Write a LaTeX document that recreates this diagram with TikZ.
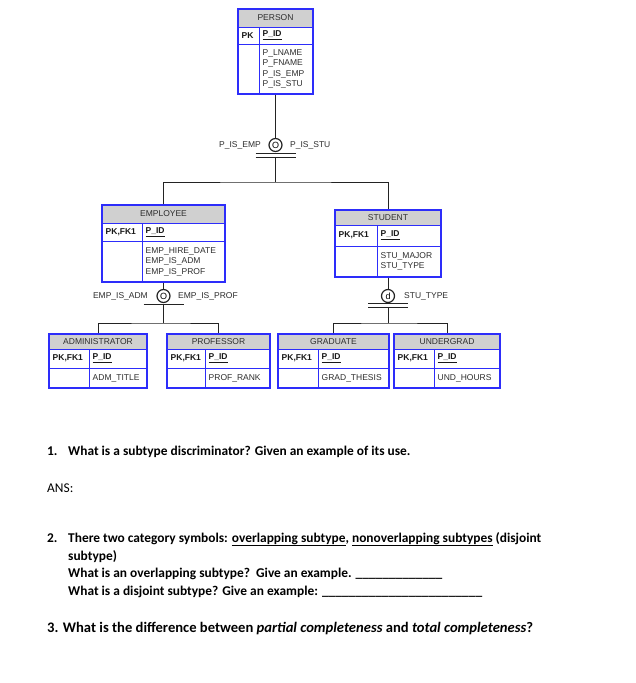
\documentclass[tikz,border=0pt]{standalone}
\usepackage{fontspec}
\setmainfont{Liberation Sans}
\newfontfamily\calfont{Carlito}
\usetikzlibrary{fit}
\definecolor{boxblue}{RGB}{45,45,250}
\definecolor{hdrgray}{RGB}{208,208,208}
\definecolor{txtgray}{RGB}{45,45,45}
\definecolor{conncol}{RGB}{35,35,35}
\tikzset{
  eline/.style={draw=boxblue, line width=0.9pt},
  ebox/.style={draw=boxblue, line width=1.1pt, inner sep=0pt},
  hdrfill/.style={fill=hdrgray},
  etxt/.style={font=\fontsize{8.5}{10.5}\selectfont, text=txtgray, inner sep=0pt},
  ekey/.style={font=\fontsize{8.5}{10.5}\selectfont\bfseries, text=black!90, inner sep=0pt},
  conn/.style={draw=conncol, line width=0.9pt},
  catsym/.style={circle, draw=conncol, line width=1.2pt, minimum size=13pt, inner sep=0pt,
                 font=\fontsize{9}{10}\selectfont, text=black},
  qtxt/.style={font=\calfont\bfseries\fontsize{13.4}{17.7}\selectfont, text=black, inner sep=0pt},
  qbig/.style={font=\calfont\bfseries\fontsize{14.6}{17.7}\selectfont, text=black, inner sep=0pt},
  atxt/.style={font=\calfont\fontsize{13.4}{17.7}\selectfont, text=black, inner sep=0pt}
}
\newcommand{\entbox}[8]{%
  \fill[hdrfill] (#2,#5) rectangle (#3,#6);
  \draw[eline] (#2,#6) -- (#3,#6) (#2,#7) -- (#3,#7) (#4,#6) -- (#4,#8);
  \node[ebox, fit={(#2,#5) (#3,#8)}] (#1) {};
  \coordinate (#1-h) at ({(#2+#3)/2},{(#5+#6)/2});
  \coordinate (#1-k) at ({#2+3.5},{(#6+#7)/2});
  \coordinate (#1-p) at ({#4+3.5},{(#6+#7)/2});
  \coordinate (#1-a) at ({#4+3.5},{(#7+#8)/2});
}
\newcommand{\enttext}[4]{%
  \node[etxt] (#1-title) at (#1-h) {#2};
  \node[ekey, anchor=west] (#1-key) at (#1-k) {#3};
  \node[ekey, anchor=west] (#1-pid) at (#1-p) {\underline{P\_ID}};
  \node[etxt, anchor=west, align=left] (#1-attr) at (#1-a) {#4};
}
\begin{document}
\begin{tikzpicture}[x=1pt,y=-1pt]
\useasboundingbox (0,0) rectangle (635,683);
% entities
\entbox{person}{238}{313}{259}{9}{27}{44}{94}
\enttext{person}{PERSON}{PK}{P\_LNAME\\P\_FNAME\\P\_IS\_EMP\\P\_IS\_STU}
\entbox{employee}{102}{225}{142}{205}{223}{241}{282}
\enttext{employee}{EMPLOYEE}{PK,FK1}{EMP\_HIRE\_DATE\\EMP\_IS\_ADM\\EMP\_IS\_PROF}
\entbox{student}{335}{441}{377}{210}{225}{246}{277}
\enttext{student}{STUDENT}{PK,FK1}{STU\_MAJOR\\STU\_TYPE}
\entbox{admin}{49}{147}{89}{334}{349}{368}{388}
\enttext{admin}{ADMINISTRATOR}{PK,FK1}{ADM\_TITLE}
\entbox{prof}{167}{270}{205}{334}{349}{368}{388}
\enttext{prof}{PROFESSOR}{PK,FK1}{PROF\_RANK}
\entbox{grad}{278}{389}{318}{334}{349}{368}{388}
\enttext{grad}{GRADUATE}{PK,FK1}{GRAD\_THESIS}
\entbox{under}{394}{500}{434}{334}{349}{368}{388}
\enttext{under}{UNDERGRAD}{PK,FK1}{UND\_HOURS}

% category 1: PERSON
\node[catsym] (c1) at (275.5,145) {O};
\node[etxt, anchor=east] (c1l) at (261,145) {P\_IS\_EMP};
\node[etxt, anchor=west] (c1r) at (290,145) {P\_IS\_STU};
\coordinate (c1a) at (255.5,153); \coordinate (c1b) at (295.5,153);
\coordinate (c1c) at (255.5,157); \coordinate (c1d) at (295.5,157);
\coordinate (c1m) at (275.5,157);
\coordinate (j1) at (275.5,182);
\draw[conn] (c1a) -- (c1b) (c1c) -- (c1d);
\draw[conn] (person.south) -- (c1.north);
\draw[conn] (c1m) -- (j1);
\draw[conn] (employee.north) |- (j1) -| (student.north);

% category 2: EMPLOYEE
\node[catsym] (c2) at (163.5,296) {O};
\node[etxt, anchor=east] (c2l) at (148,296) {EMP\_IS\_ADM};
\node[etxt, anchor=west] (c2r) at (178,296) {EMP\_IS\_PROF};
\coordinate (c2a) at (143.5,304); \coordinate (c2b) at (183.5,304);
\coordinate (c2m) at (163.5,304);
\coordinate (j2) at (163.5,323);
\draw[conn] (c2a) -- (c2b);
\draw[conn] (employee.south) -- (c2.north);
\draw[conn] (c2m) -- (j2);
\draw[conn] (admin.north) |- (j2) -| (prof.north);

% category 3: STUDENT
\node[catsym] (c3) at (388,296) {d};
\node[etxt, anchor=west] (c3r) at (404,296) {STU\_TYPE};
\coordinate (c3a) at (368,303); \coordinate (c3b) at (408,303);
\coordinate (c3c) at (368,307); \coordinate (c3d) at (408,307);
\coordinate (c3m) at (388,307);
\coordinate (j3) at (388,323);
\draw[conn] (c3a) -- (c3b) (c3c) -- (c3d);
\draw[conn] (student.south) -- (c3.north);
\draw[conn] (c3m) -- (j3);
\draw[conn] (grad.north) |- (j3) -| (under.north);

% questions
\node[qtxt, anchor=base west] (q1n) at (47,455) {1.};
\node[qtxt, anchor=base west] (q1) at (68,455) {What is a subtype discriminator? Given an example of its use.};
\node[atxt, anchor=base west] (ans) at (47,492) {ANS:};
\node[qtxt, anchor=base west] (q2n) at (47,542) {2.};
\node[qtxt, anchor=base west, align=left] (q2) at (68,542) {There two category symbols: \underline{overlapping subtype}, \underline{nonoverlapping subtypes} (disjoint};
\node[qtxt, anchor=base west] (q2b) at (68,560) {subtype)};
\node[qtxt, anchor=base west] (q2c) at (68,577) {What is an overlapping subtype?\ \ Give an example. \_\_\_\_\_\_\_\_\_\_\_\_\_};
\node[qtxt, anchor=base west] (q2d) at (68,595) {What is a disjoint subtype? Give an example: \_\_\_\_\_\_\_\_\_\_\_\_\_\_\_\_\_\_\_\_\_\_\_\_};
\node[qbig, anchor=base west] (q3) at (47,632) {3. What is the difference between \textit{partial completeness} and \textit{total completeness}?};
\end{tikzpicture}
\end{document}
